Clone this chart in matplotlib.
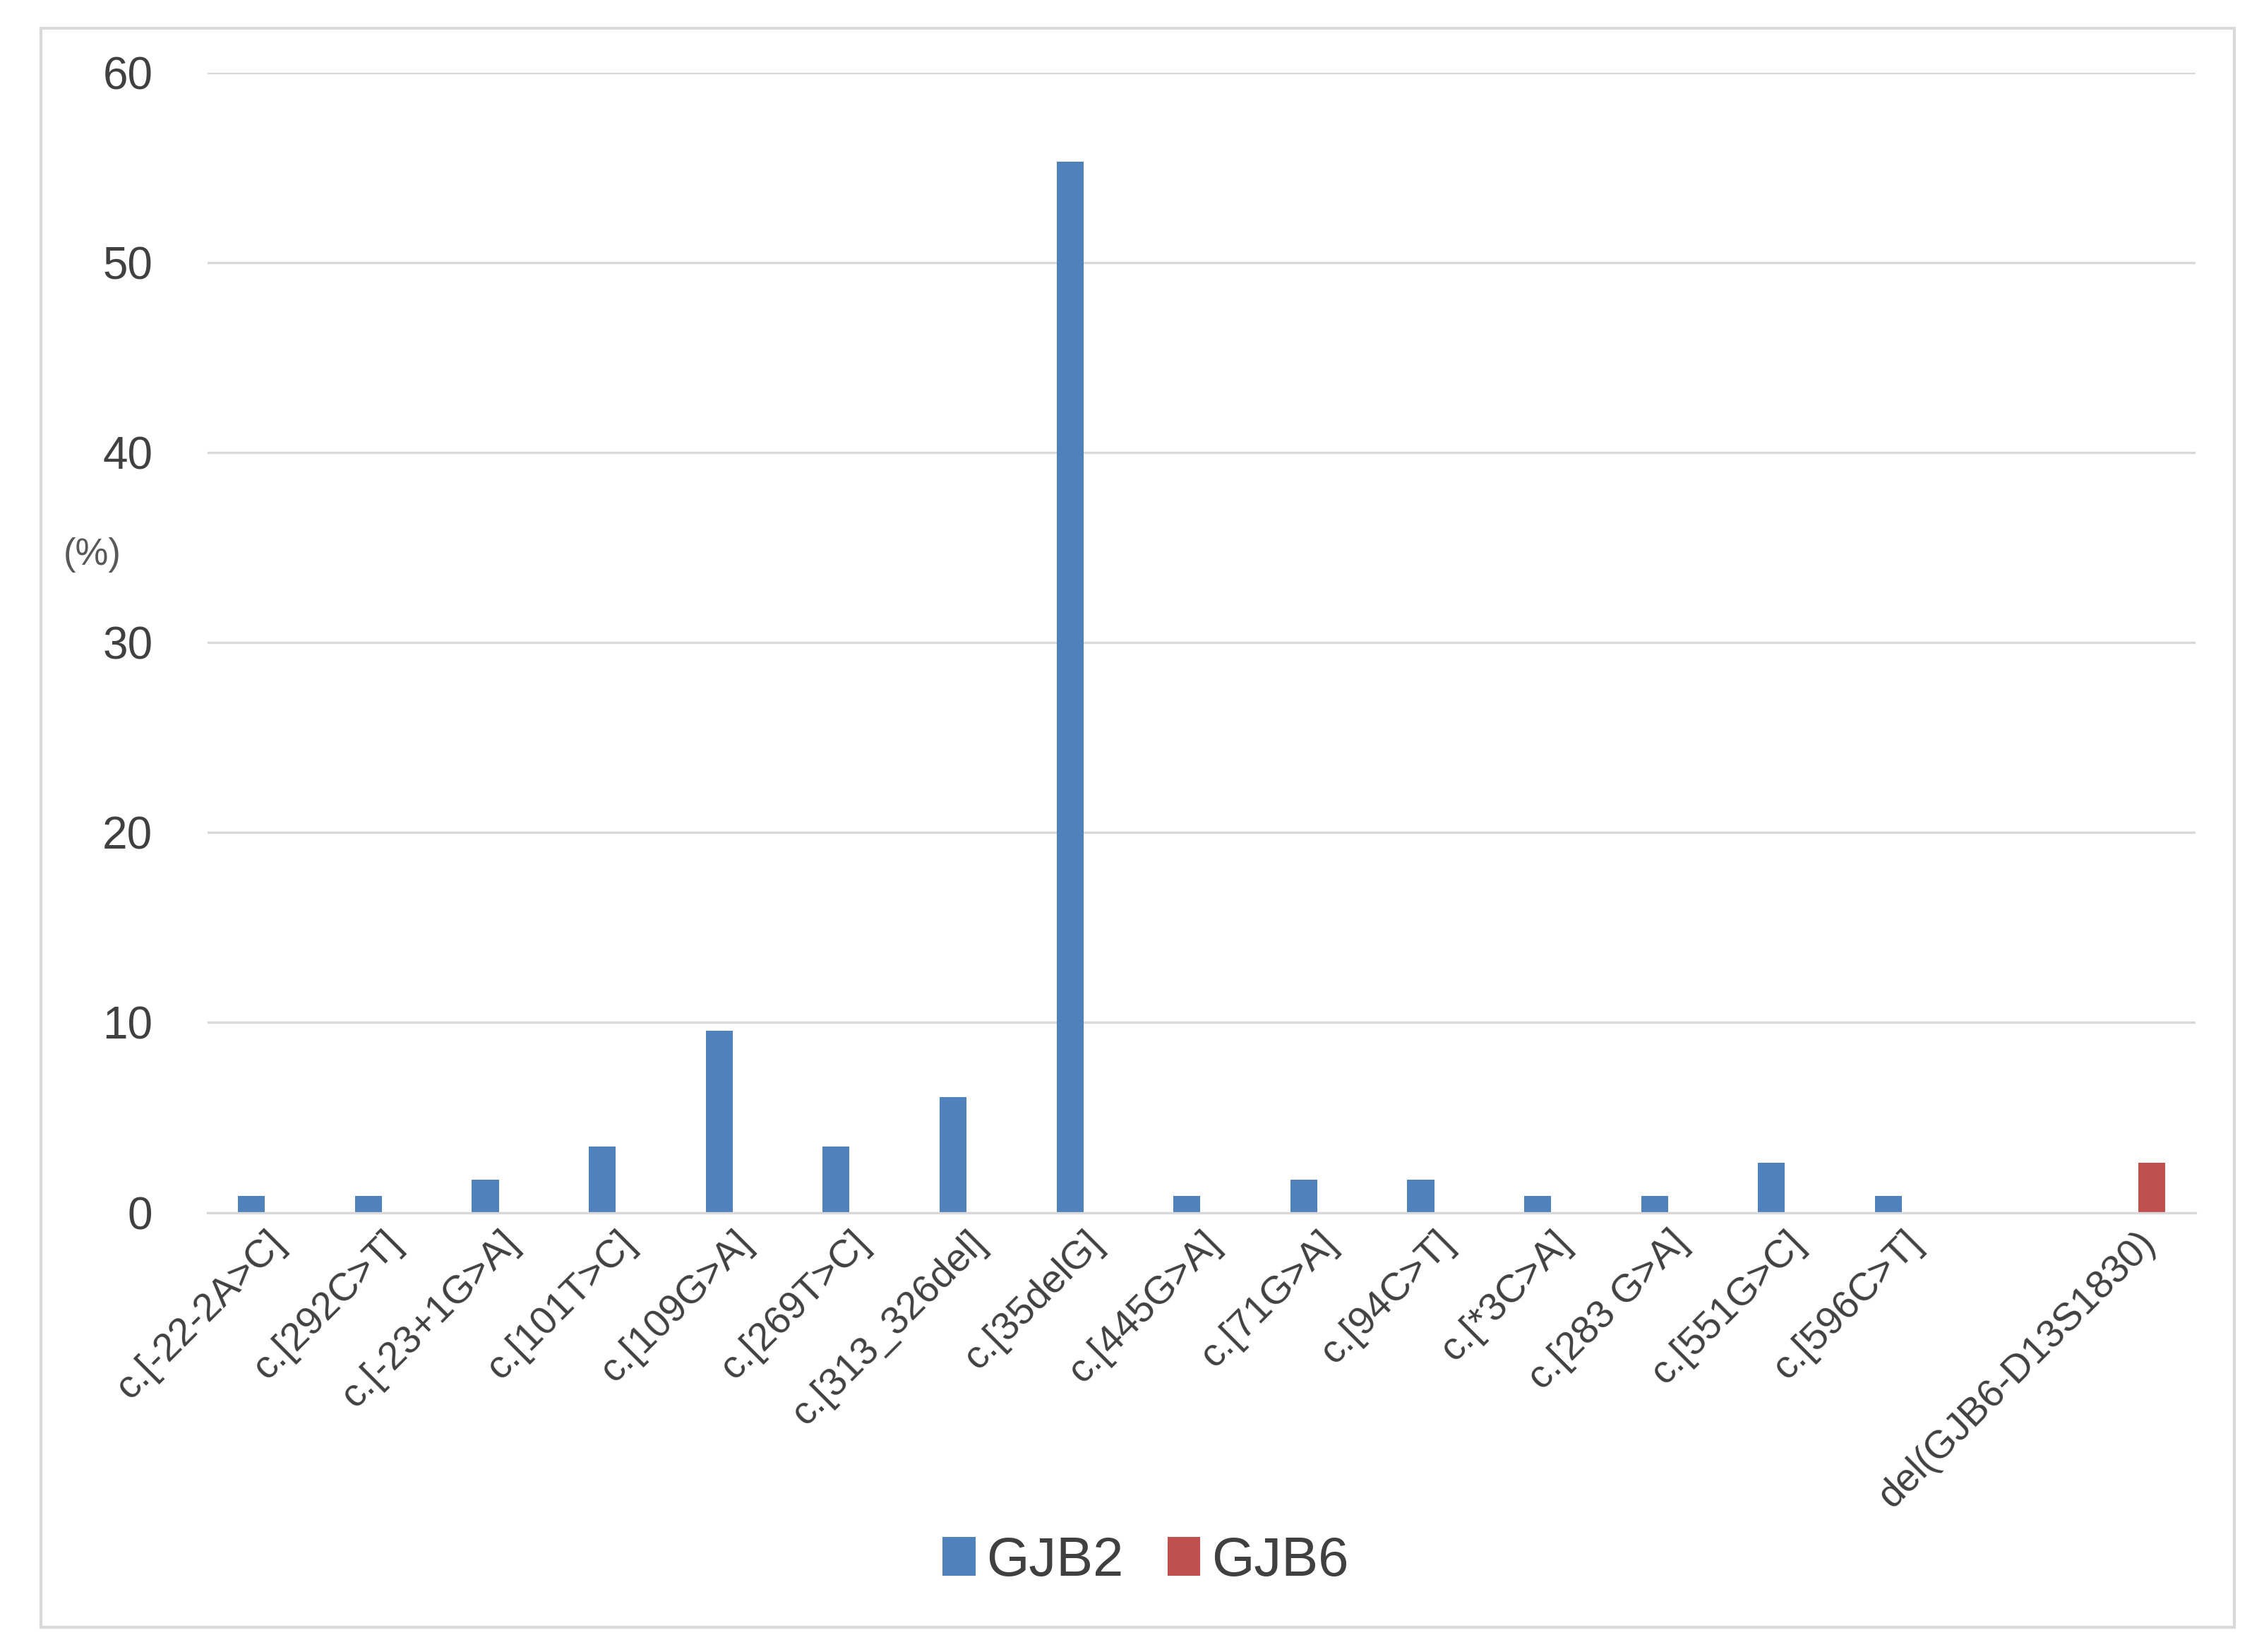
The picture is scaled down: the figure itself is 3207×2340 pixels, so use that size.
import matplotlib.pyplot as plt
import numpy as np

plt.rcParams['font.family'] = ['Liberation Sans', 'DejaVu Sans']

# mutation labels (one empty slot before the GJB6 deletion, as in the original)
labels = ["c.[-22-2A>C]", "c.[292C>T]", "c.[-23+1G>A]", "c.[101T>C]", "c.[109G>A]",
          "c.[269T>C]", "c.[313_326del]", "c.[35delG]", "c.[445G>A]", "c.[71G>A]",
          "c.[94C>T]", "c.[*3C>A]", "c.[283 G>A]", "c.[551G>C]", "c.[596C>T]",
          "", "del(GJB6-D13S1830)"]
gjb2 = [0.87, 0.87, 1.74, 3.48, 9.57, 3.48, 6.09, 55.3, 0.87, 1.74,
        1.74, 0.87, 0.87, 2.61, 0.87, 0, 0]
gjb6 = [0, 0, 0, 0, 0, 0, 0, 0, 0, 0, 0, 0, 0, 0, 0, 0, 2.61]

fig = plt.figure(figsize=(16.035, 11.7), dpi=200)
ax = fig.add_axes([0.0917, 0.266, 0.878, 0.69])

x = np.arange(len(labels))
w = 0.23
ax.bar(x - w / 2 - 0.01, gjb2, w, color="#4F81BD", label="GJB2")
ax.bar(x + w / 2 + 0.01, gjb6, w, color="#C0504D", label="GJB6")

ax.set_xlim(-0.5, len(labels) - 0.5)
ax.set_ylim(0, 60)
ax.set_yticks(range(0, 61, 10))
ax.yaxis.grid(True, color="#D9D9D9", linewidth=1.2)
ax.set_axisbelow(True)
for s in ["top", "right", "left"]:
    ax.spines[s].set_visible(False)
ax.spines["bottom"].set_color("#D9D9D9")
ax.spines["bottom"].set_linewidth(1.2)
ax.tick_params(axis="y", length=0, labelsize=23, colors="#404040", pad=28)
ax.tick_params(axis="x", length=0, labelsize=20, colors="#404040", pad=6)
ax.set_xticks(x)
ax.set_xticklabels(labels, rotation=45, ha="right", rotation_mode="anchor")

fig.text(0.028, 0.664, "(%)", fontsize=19, color="#595959", va="center")

ax.legend(loc="center", bbox_to_anchor=(0.506, 0.055), bbox_transform=fig.transFigure,
          ncol=2, frameon=False, fontsize=28, handlelength=0.6, handleheight=0.7,
          columnspacing=0.8, handletextpad=0.2, labelcolor="#404040")

fig.patches.append(plt.Rectangle((0.018, 0.015), 0.969, 0.968, transform=fig.transFigure,
                                 fill=False, edgecolor="#D9D9D9", linewidth=1.5))

fig.savefig("out.png", dpi=200)
